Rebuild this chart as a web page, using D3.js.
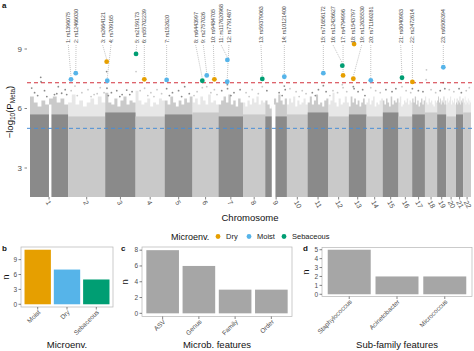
<!DOCTYPE html>
<html>
<head>
<meta charset="utf-8">
<script src="https://cdn.jsdelivr.net/npm/d3@7"></script>
<style>
  body { margin: 0; background: #fff; }
  text { font-family: "Liberation Sans", Arial, sans-serif; }
</style>
</head>
<body>
<div id="chart"></div>
<script>
// ---------- data ----------
const chromosomes = d3.range(1, 23).map(String);
const chromLengthMb = [249, 243, 198, 191, 181, 171, 159, 146, 141, 136, 135, 134, 115, 107, 102, 90, 83, 80, 59, 64, 47, 51];

// top of the saturated SNP cloud per chromosome (-log10 p)
const solidTop = [5.7, 5.6, 5.8, 5.6, 5.7, 5.8, 5.6, 5.7, 5.6, 5.7, 5.8, 5.6, 5.7, 5.6, 5.8, 5.6, 5.7, 5.8, 5.7, 5.6, 5.7, 5.8];
const cloudTop = [
  [6.6, 6.3, 6.1, 6.4, 6.2, 6.5, 6.6, 6.3, 6.5, 6.2],
  [6.3, 6.7, 6.2, 6.4, 6.1, 6.3, 6.5, 6.2, 6.6, 6.3],
  [6.8, 6.3, 6.2, 6.5, 6.1, 6.4, 6.6, 6.2, 6.4, 6.3],
  [6.9, 6.4, 6.2, 6.3, 6.5, 6.1, 6.3, 6.2, 6.5, 6.4],
  [6.4, 6.2, 6.6, 6.3, 6.1, 6.4, 6.2, 6.5, 6.3, 6.6],
  [6.3, 6.5, 6.2, 6.6, 6.4, 6.2, 6.7, 6.3, 6.4, 6.2],
  [6.2, 6.4, 6.6, 6.3, 6.7, 6.2, 6.4, 6.1, 6.5, 6.3],
  [6.3, 6.1, 6.4, 6.2, 6.5, 6.3, 6.6, 6.2, 6.4, 6.3],
  [6.4, 6.2, 6.0, 6.1, 6.5, 6.3, 6.7, 6.4, 6.2, 6.5],
  [6.2, 6.5, 6.3, 6.6, 6.1, 6.4, 6.2, 6.3, 6.5, 6.2],
  [6.3, 6.6, 6.2, 6.4, 6.7, 6.2, 6.3, 6.1, 6.4, 6.5],
  [6.2, 6.4, 6.8, 6.3, 6.1, 6.5, 6.2, 6.3, 6.6, 6.3],
  [6.1, 6.6, 6.3, 6.5, 6.2, 6.4, 6.1, 6.3, 6.5, 6.2],
  [6.3, 6.5, 6.2, 6.4, 6.6, 6.1, 6.3, 6.2, 6.4, 6.5],
  [6.4, 6.2, 6.5, 6.3, 6.1, 6.6, 6.2, 6.4, 6.3, 6.5],
  [6.3, 6.6, 6.1, 6.2, 6.4, 6.3, 6.5, 6.2, 6.4, 6.3],
  [6.5, 6.3, 6.6, 6.2, 6.4, 6.1, 6.3, 6.5, 6.2, 6.4],
  [6.6, 6.3, 6.2, 6.5, 6.3, 6.4, 6.2, 6.1, 6.4, 6.3],
  [6.4, 6.6, 6.3, 6.5, 6.2, 6.4, 6.3, 6.6, 6.2, 6.4],
  [6.2, 6.5, 6.3, 6.4, 6.6, 6.2, 6.4, 6.3, 6.5, 6.2],
  [6.3, 6.5, 6.2, 6.4, 6.3, 6.6, 6.2, 6.4, 6.3, 6.5],
  [6.5, 6.3, 6.6, 6.2, 6.4, 6.3, 6.5, 6.2, 6.4, 6.3]
];
// regions without SNPs: [chr, start Mb, end Mb]
const gapsMb = [[1, 124, 140], [9, 42, 66]];

// sparse SNPs above the cloud: [chr, pos Mb, -log10 p]
const bgSnps = [
  [1, 11, 7.03], [1, 70, 7.57], [1, 72, 7.35], [1, 30, 6.8], [1, 95, 6.9], [1, 160, 6.7], [1, 207, 6.77], [1, 230, 6.95], [1, 185, 7.1],
  [1, 50, 6.65], [1, 110, 6.6], [1, 175, 6.75], [1, 240, 6.7],
  [2, 45, 7.13], [2, 20, 6.9], [2, 90, 6.8], [2, 130, 6.95], [2, 170, 6.7], [2, 210, 7.05], [2, 235, 6.8],
  [2, 60, 6.65], [2, 150, 6.6], [2, 190, 6.75],
  [3, 9, 7.86], [3, 11, 7.02], [3, 40, 6.8], [3, 75, 6.9], [3, 110, 6.7], [3, 140, 6.93], [3, 175, 6.85],
  [3, 20, 6.65], [3, 95, 6.6], [3, 160, 6.7],
  [4, 3, 7.86], [4, 59, 7.02], [4, 30, 6.9], [4, 100, 6.8], [4, 140, 6.95], [4, 170, 6.75],
  [4, 80, 6.65], [4, 120, 6.6],
  [5, 12, 7.0], [5, 50, 6.8], [5, 90, 6.9], [5, 130, 7.1], [5, 160, 6.75], [5, 30, 6.65], [5, 110, 6.6],
  [6, 30, 6.85], [6, 64, 7.05], [6, 93, 7.1], [6, 120, 6.8], [6, 143, 6.95], [6, 160, 6.7], [6, 10, 6.65],
  [7, 20, 6.9], [7, 57, 7.2], [7, 58, 7.0], [7, 100, 6.8], [7, 140, 6.95], [7, 80, 6.65],
  [8, 20, 6.8], [8, 60, 6.95], [8, 100, 6.75], [8, 126, 7.1], [8, 40, 6.6],
  [9, 10, 6.9], [9, 90, 6.8], [9, 124, 7.13], [9, 130, 6.95], [9, 110, 6.65],
  [10, 20, 7.0], [10, 60, 6.85], [10, 100, 6.9], [10, 125, 6.75], [10, 80, 6.6],
  [11, 30, 6.8], [11, 70, 6.95], [11, 102, 7.15], [11, 120, 6.85], [11, 50, 6.65],
  [12, 30, 6.9], [12, 60, 6.8], [12, 91, 7.2], [12, 96, 7.05], [12, 120, 6.85], [12, 10, 6.65],
  [13, 29, 7.1], [13, 34, 7.0], [13, 60, 6.85], [13, 90, 6.95], [13, 105, 6.65],
  [14, 28, 7.05], [14, 60, 6.9], [14, 90, 6.8],
  [15, 20, 6.95], [15, 60, 6.85], [15, 85, 7.0],
  [16, 23, 7.1], [16, 50, 6.9], [16, 80, 6.8],
  [17, 1, 7.0], [17, 40, 6.9], [17, 70, 6.85],
  [18, 10, 7.95], [18, 8, 7.45], [18, 40, 6.95], [18, 70, 6.8],
  [19, 40, 7.3], [19, 20, 6.9], [19, 50, 7.0],
  [20, 20, 6.95], [20, 50, 6.85],
  [21, 20, 7.0], [21, 35, 6.8],
  [22, 20, 6.9], [22, 40, 7.05]
];

// lead SNPs
const leadId = ["rs1396075", "rs12466030", "rs2664121", "rs709165", "rs2159173", "rs55702239", "rs152620",
  "rs6443997", "rs2757026", "rs9484705", "rs117620968", "rs7791487", "rs59379063", "rs10121400",
  "rs71656172", "rs12426627", "rs4794996", "rs1543797", "rs12635530", "rs71160281", "rs8040983",
  "rs2472614", "rs6509394"];
const leadChr = [2, 2, 3, 3, 4, 4, 5, 6, 6, 6, 7, 7, 8, 9, 11, 12, 12, 13, 13, 14, 16, 17, 19];
const leadPos = [19, 50, 9, 13, 3, 57, 12, 64, 93, 143, 57, 56, 126, 124, 102, 91, 96, 34, 29, 28, 23, 1, 40];
const leadP = [7.47, 7.78, 8.36, 7.40, 8.75, 7.47, 7.44, 7.40, 7.67, 7.47, 8.45, 7.35, 7.49, 7.60,
  7.78, 8.16, 7.67, 9.25, 7.50, 7.42, 7.55, 7.34, 8.08];
const leadEnv = ["Moist", "Moist", "Dry", "Moist", "Sebaceous", "Dry", "Moist", "Sebaceous", "Moist", "Dry",
  "Moist", "Moist", "Sebaceous", "Moist", "Moist", "Sebaceous", "Dry", "Dry", "Dry", "Moist",
  "Sebaceous", "Dry", "Moist"];

const yTicksA = [3, 6, 9];
const genomeLine = 7.3;   // 5e-8
const suggestLine = 5;

// bar panels
const envCats = ["Moist", "Dry", "Sebaceous"];
const envCounts = [11, 7, 5];
const featCats = ["ASV", "Genus", "Family", "Order"];
const featCounts = [8, 6, 3, 3];
const subCats = ["Staphylococcus", "Acinetobacter", "Micrococcus"];
const subCounts = [5, 2, 2];

// ---------- layout ----------
const width = 474, height = 351;
const envColor = d3.scaleOrdinal().domain(["Dry", "Moist", "Sebaceous"]).range(["#E69F00", "#56B4E9", "#009E73"]);
const darkGrey = "#8a8a8a", lightGrey = "#c9c9c9";
// label nudges (px) of the repelled lead SNP labels
const labelNudge = [-2.7, 0.3, -4, 3.7, 0.7, 0, 0, -6.6, -3.4, -1, -6.3, 1.7, -1.3, 0, 0, -9.3, 0, -0.7, 8.4, 0, -1.3, 0, 0];

const svg = d3.select("#chart").append("svg")
  .attr("width", width).attr("height", height);

// ---------- panel a ----------
const aTop = 0, aBottom = 197, aLeft = 27, aRight = 473;
const offsets = d3.cumsum([0, ...chromLengthMb.slice(0, -1)]);
const totalMb = d3.sum(chromLengthMb);
const xA = d3.scaleLinear().domain([0, totalMb]).range([30, 471]);
const yA = d3.scaleLinear().domain([3, 9]).range([168, 49]);
const cum = (chr, pos) => offsets[chr - 1] + pos;

svg.append("defs").append("clipPath").attr("id", "clipA")
  .append("rect").attr("x", aLeft).attr("y", aTop).attr("width", aRight - aLeft).attr("height", aBottom - aTop);

const a = svg.append("g").attr("clip-path", "url(#clipA)");

const chrColor = (i) => (i % 2 === 0 ? darkGrey : lightGrey);

// cloud (textured upper part)
const area = d3.area().curve(d3.curveStepAfter)
  .x((d) => xA(d.x)).y0(aBottom).y1((d) => yA(d.v));

chromosomes.forEach((c, i) => {
  const L = chromLengthMb[i], steps = cloudTop[i];
  const pts = steps.map((v, j) => ({ x: offsets[i] + (j * L) / steps.length, v }));
  pts.push({ x: offsets[i] + L, v: steps[steps.length - 1] });
  a.append("path").datum(pts).attr("d", area)
    .attr("fill", chrColor(i)).attr("opacity", 0.45);
  a.append("rect")
    .attr("x", xA(offsets[i])).attr("width", xA(offsets[i] + L) - xA(offsets[i]))
    .attr("y", yA(solidTop[i])).attr("height", aBottom - yA(solidTop[i]))
    .attr("fill", chrColor(i));
});

// gaps
a.selectAll(".gap").data(gapsMb).enter().append("rect")
  .attr("x", (d) => xA(cum(d[0], d[1])))
  .attr("width", (d) => xA(cum(d[0], d[2])) - xA(cum(d[0], d[1])))
  .attr("y", yA(6.2)).attr("height", aBottom - yA(6.2))
  .attr("fill", "#fff");

// sparse SNPs
a.selectAll(".bg").data(bgSnps).enter().append("circle")
  .attr("cx", (d) => xA(cum(d[0], d[1])))
  .attr("cy", (d) => yA(d[2]))
  .attr("r", 0.9)
  .attr("fill", (d) => chrColor(d[0] - 1));

// threshold lines
a.append("line").attr("x1", aLeft).attr("x2", aRight)
  .attr("y1", yA(genomeLine)).attr("y2", yA(genomeLine))
  .attr("stroke", "#d2323c").attr("stroke-width", 1.1).attr("stroke-dasharray", "4,3");
a.append("line").attr("x1", aLeft).attr("x2", aRight)
  .attr("y1", yA(suggestLine)).attr("y2", yA(suggestLine))
  .attr("stroke", "#4a8fd6").attr("stroke-width", 1).attr("stroke-dasharray", "4,3");

// lead SNPs, labels and connectors
const leads = leadId.map((id, i) => ({
  id, k: i + 1,
  x: xA(cum(leadChr[i], leadPos[i])),
  y: yA(leadP[i]),
  env: leadEnv[i],
  lx: xA(cum(leadChr[i], leadPos[i])) + labelNudge[i]
}));

a.selectAll(".conn").data(leads).enter().append("line")
  .attr("x1", (d) => d.lx).attr("y1", 45)
  .attr("x2", (d) => d.x).attr("y2", (d) => d.y - 2.5)
  .attr("stroke", "#9a9a9a").attr("stroke-width", 0.6).attr("stroke-dasharray", "1,1");

a.selectAll(".lead").data(leads).enter().append("circle")
  .attr("cx", (d) => d.x).attr("cy", (d) => d.y).attr("r", 2.4)
  .attr("fill", (d) => envColor(d.env));

a.selectAll(".lab").data(leads).enter().append("text")
  .attr("transform", (d) => `translate(${d.lx},43) rotate(-90)`)
  .attr("dy", "0.35em")
  .attr("font-size", 5.3).attr("fill", "#444")
  .text((d) => `${d.k}: ${d.id}`);

// axes of panel a
const yAxisA = svg.append("g");
yTicksA.forEach((t) => {
  yAxisA.append("line").attr("x1", aLeft - 2.5).attr("x2", aLeft)
    .attr("y1", yA(t)).attr("y2", yA(t)).attr("stroke", "#333").attr("stroke-width", 0.6);
  yAxisA.append("text").attr("x", aLeft - 5).attr("y", yA(t)).attr("dy", "0.35em")
    .attr("text-anchor", "end").attr("font-size", 8).attr("fill", "#4d4d4d").text(t);
});

const xAxisA = svg.append("g");
chromosomes.forEach((c, i) => {
  const cx = xA(offsets[i] + chromLengthMb[i] / 2);
  xAxisA.append("line").attr("x1", cx).attr("x2", cx).attr("y1", aBottom).attr("y2", aBottom + 2.5)
    .attr("stroke", "#333").attr("stroke-width", 0.6);
  xAxisA.append("text")
    .attr("transform", `translate(${cx - 1.5},${aBottom + 4}) rotate(60)`)
    .attr("dy", "0.35em").attr("font-size", 7).attr("fill", "#4d4d4d")
    .text(c);
});

svg.append("text").attr("x", 250).attr("y", 221).attr("text-anchor", "middle")
  .attr("font-size", 9.5).attr("fill", "#111").text("Chromosome");

const yLab = svg.append("text").attr("transform", `translate(13,112) rotate(-90)`)
  .attr("text-anchor", "middle").attr("font-size", 9.5).attr("fill", "#111");
yLab.append("tspan").text("\u2212log");
yLab.append("tspan").attr("font-size", 6.5).attr("dy", 2).text("10");
yLab.append("tspan").attr("dy", -2).text("(P");
yLab.append("tspan").attr("font-size", 6.5).attr("dy", 2).text("Meta");
yLab.append("tspan").attr("dy", -2).text(")");

// legend
const legend = svg.append("g");
legend.append("text").attr("x", 171).attr("y", 239.5).attr("font-size", 9).attr("fill", "#111").text("Microenv.");
const legX = [218, 249, 284];
["Dry", "Moist", "Sebaceous"].forEach((k, i) => {
  legend.append("circle").attr("cx", legX[i]).attr("cy", 236.5).attr("r", 2.4).attr("fill", envColor(k));
  legend.append("text").attr("x", legX[i] + 8).attr("y", 239.3).attr("font-size", 7.5).attr("fill", "#222").text(k);
});

// panel letters
[["a", 2, 8], ["b", 2, 251], ["c", 121, 251], ["d", 303, 251]].forEach((p) => {
  svg.append("text").attr("x", p[1]).attr("y", p[2]).attr("font-size", 8)
    .attr("font-weight", "bold").attr("fill", "#111").text(p[0]);
});

// ---------- bar panels ----------
function barPanel(o) {
  const x = d3.scaleBand().domain(o.cats).range([o.left, o.right])
    .paddingInner(0.1).paddingOuter(0.12);
  const y = d3.scaleLinear().domain([-0.05 * o.max, 1.05 * o.max]).range([o.bottom, o.top]);
  const g = svg.append("g");

  g.selectAll("rect.bar").data(o.counts).enter().append("rect")
    .attr("x", (d, i) => x(o.cats[i])).attr("width", x.bandwidth())
    .attr("y", (d) => y(d)).attr("height", (d) => y(0) - y(d))
    .attr("fill", (d, i) => o.colors ? o.colors[i] : "#a6a6a6");

  g.append("rect").attr("x", o.left).attr("y", o.top)
    .attr("width", o.right - o.left).attr("height", o.bottom - o.top)
    .attr("fill", "none").attr("stroke", "#b5b5b5").attr("stroke-width", 0.7);

  o.ticks.forEach((t) => {
    g.append("line").attr("x1", o.left - 2.5).attr("x2", o.left).attr("y1", y(t)).attr("y2", y(t))
      .attr("stroke", "#333").attr("stroke-width", 0.6);
    g.append("text").attr("x", o.left - 4).attr("y", y(t)).attr("dy", "0.35em")
      .attr("text-anchor", "end").attr("font-size", 6.5).attr("fill", "#4d4d4d").text(t);
  });

  o.cats.forEach((c) => {
    const cx = x(c) + x.bandwidth() / 2;
    g.append("line").attr("x1", cx).attr("x2", cx).attr("y1", o.bottom).attr("y2", o.bottom + 2.5)
      .attr("stroke", "#333").attr("stroke-width", 0.6);
    g.append("text").attr("transform", `translate(${cx + 1.5},${o.bottom + 4}) rotate(-45)`)
      .attr("text-anchor", "end").attr("dy", "0.35em").attr("font-size", 6.5)
      .attr("fill", "#4d4d4d").text(c);
  });

  g.append("text").attr("transform", `translate(${o.nx},${(o.top + o.bottom) / 2}) rotate(-90)`)
    .attr("text-anchor", "middle").attr("font-size", 9.5).attr("fill", "#111").text("n");
  g.append("text").attr("x", (o.left + o.right) / 2).attr("y", 348)
    .attr("text-anchor", "middle").attr("font-size", 9.5).attr("fill", "#111").text(o.title);
}

barPanel({ cats: envCats, counts: envCounts, colors: ["#E69F00", "#56B4E9", "#009E73"],
  left: 21, right: 113, top: 247, bottom: 307, max: 11, ticks: [0, 3, 6, 9], nx: 9, title: "Microenv." });
barPanel({ cats: featCats, counts: featCounts,
  left: 142, right: 292, top: 247, bottom: 316.5, max: 8, ticks: [0, 2, 4, 6, 8], nx: 128, title: "Microb. features" });
barPanel({ cats: subCats, counts: subCounts,
  left: 322, right: 472, top: 247.5, bottom: 296.5, max: 5, ticks: [0, 1, 2, 3, 4, 5], nx: 309, title: "Sub-family features" });
</script>
</body>
</html>
